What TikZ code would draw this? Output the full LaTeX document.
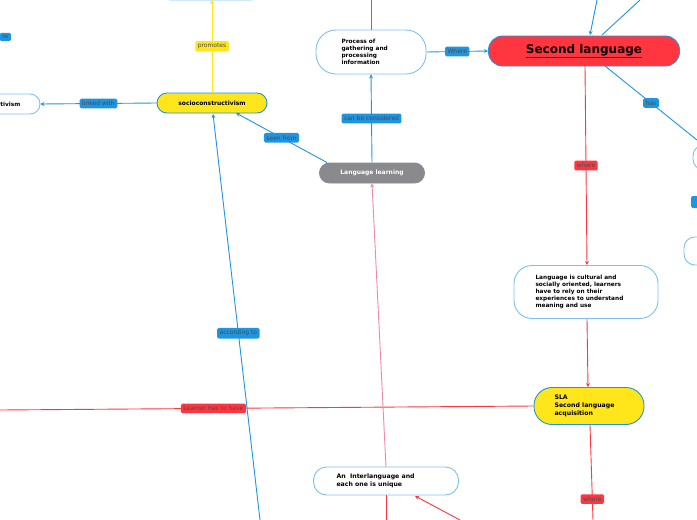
\documentclass[tikz,border=0pt]{standalone}
\usepackage{fontspec}
\setmainfont{DejaVu Sans}
\usetikzlibrary{arrows.meta}
\definecolor{bl}{HTML}{1E95E0}
\definecolor{bbd}{HTML}{7DC1EC}
\definecolor{rd}{HTML}{FF3640}
\definecolor{yl}{HTML}{FFE61A}
\definecolor{gr}{HTML}{8A8A8E}
\definecolor{pk}{HTML}{F088A8}
\begin{document}
\begin{tikzpicture}[x=1pt,y=-1pt,
 box/.style={draw=bbd,line width=0.9pt,rounded corners=11pt,fill=white},
 lab/.style={fill=bl,rounded corners=1.5pt,font=\fontsize{6}{7}\selectfont,text=black!70,inner sep=2.5pt},
 rlab/.style={lab,fill=rd},
 ylab/.style={lab,fill=yl},
 txt/.style={font=\bfseries\fontsize{5.8}{7}\selectfont,align=left,anchor=west},
 con/.style={bl,line width=0.9pt},
 arr/.style={-{Stealth[length=4pt,width=4pt]}}]
\clip (0,0) rectangle (697,520);
\useasboundingbox (0,0) rectangle (697,520);
% nodes (shapes)
\draw[box] (160,-22) rectangle (262,0);
\node[box,minimum width=100pt,minimum height=20pt,rounded corners=10pt] (cons) at (-10,104) {};
\node[txt,anchor=east] at (24,104) {tivism};
\node[box,fill=yl,draw=bl,minimum width=110pt,minimum height=20pt,rounded corners=10pt,font=\bfseries\fontsize{6}{7}\selectfont] (socio) at (212,103) {socioconstructivism};
\node[box,fill=gr,draw=gr,minimum width=105pt,minimum height=20pt,rounded corners=10pt,text=white,font=\bfseries\fontsize{6}{7}\selectfont] (ll) at (372,173) {Language learning};
\node[box,minimum width=110pt,minimum height=44pt,rounded corners=20pt] (proc) at (371,52) {};
\node[txt] at (338,52) {Process of\\gathering and\\processing\\information};
\node[box,fill=rd,draw=bl,minimum width=191pt,minimum height=30pt,rounded corners=14pt,font=\bfseries\fontsize{12}{14}\selectfont] (sl) at (584,51) {\underline{Second language}};
\node[box,minimum width=144pt,minimum height=53pt,rounded corners=18pt] (cult) at (586,292) {};
\node[txt] at (532,292) {Language is cultural and\\socially oriented, learners\\have to rely on their\\experiences to understand\\meaning and use};
\node[box,fill=yl,draw=bl,minimum width=110pt,minimum height=37pt,rounded corners=18pt] (sla) at (589,406) {};
\node[txt,font=\bfseries\fontsize{6.2}{8}\selectfont] at (551,406) {SLA\\Second language\\acquisition};
\node[box,minimum width=145pt,minimum height=28pt,rounded corners=13pt] (inter) at (386,481) {};
\node[txt,font=\bfseries\fontsize{6.2}{7.8}\selectfont] at (333,481) {An\ \ Interlanguage and\\each one is unique};
\draw[box] (693,145) rectangle (740,170);
\draw[box] (684,237) rectangle (740,265);
\node[lab,minimum width=12pt,minimum height=12pt] at (697,202) {};
\node[lab,anchor=east] at (11,37) {re};
% connectors
\coordinate (top1) at (212,0);
\draw[yl,line width=0.9pt,arr] (socio.north) -- node[ylab]{promotes} (top1);
\draw[con,arr] (socio.west) -- node[lab]{linked with} (cons.east);
\draw[con,arr] (ll.north west) ++(8,0) coordinate (llw) -- node[lab]{seen from} (236,113);
\draw[con,arr] (ll.north) -- node[lab]{can be considered} (proc.south);
\coordinate (ptop) at (371,0);
\draw[con] (proc.north) -- (ptop);
\draw[con,arr] (proc.east) -- node[lab]{Where} (sl.west);
\coordinate (t2) at (597,0); \coordinate (t3) at (640,0);
\draw[con,arr] (t2) -- (590,35);
\draw[con] (602,35) -- (t3);
\coordinate (r1) at (697,140);
\draw[con] (605,66) -- node[lab]{has} (r1);
\draw[rd,line width=0.9pt,arr] (585,66) -- node[rlab]{where} (587,265);
\draw[rd,line width=0.9pt,arr] (587,319) -- (588,387);
\coordinate (l1) at (0,410);
\draw[rd,line width=0.9pt] (sla.west) -- node[rlab,pos=0.6]{Learner has to have} (l1);
\coordinate (b1) at (593,520);
\draw[rd,line width=0.9pt] (590,425) -- node[rlab,pos=0.78]{where} (b1);
\draw[pk,line width=0.9pt,arr] (386,467) -- (ll.south);
\coordinate (b2) at (386,520);
\draw[rd,line width=0.9pt] (386,495) -- (b2);
\coordinate (b3) at (460,520);
\draw[rd,line width=0.9pt,arr] (b3) -- (415,496);
\coordinate (b4) at (260,520);
\draw[con,arr] (b4) -- node[lab,pos=0.46]{according to} (213,114);
\end{tikzpicture}
\end{document}
